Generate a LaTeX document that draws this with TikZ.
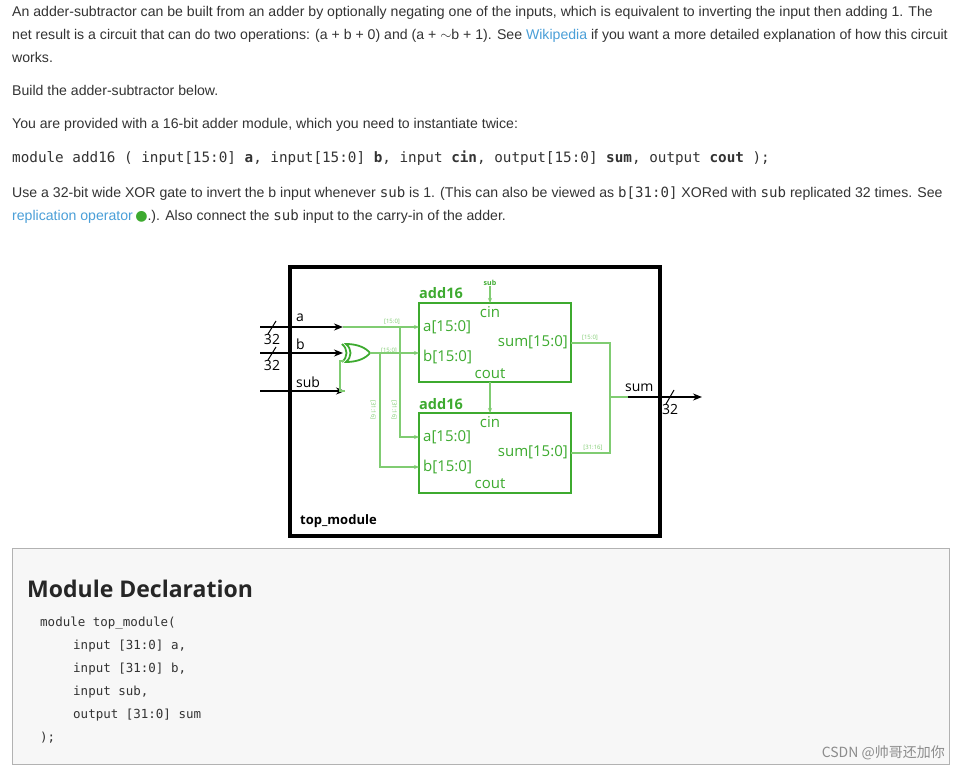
\documentclass[tikz,border=0pt]{standalone}
\usepackage{fontspec}
\setmainfont{Liberation Sans}
\setmonofont{DejaVu Sans Mono}
\newfontfamily\dia{Open Sans}
\newfontfamily\cjk{Noto Sans CJK SC}
\usetikzlibrary{arrows.meta}
\definecolor{txt}{HTML}{333333}
\definecolor{lnk}{HTML}{4A9FD8}
\definecolor{gbox}{HTML}{3DAA2F}
\definecolor{gline}{HTML}{80CC72}
\begin{document}
\begin{tikzpicture}[x=1pt,y=-1pt,
  body/.style={anchor=base west,inner sep=0,text=txt,font=\fontsize{14.1}{16}\selectfont},
  code/.style={anchor=base west,inner sep=0,text=txt,font=\ttfamily\fontsize{12.5}{15}\selectfont},
  dt/.style={inner sep=0,text=gbox,font=\dia\fontsize{15}{17}\selectfont},
  tiny/.style={inner sep=0,text=gline,font=\dia\fontsize{6}{7}\selectfont},
  bk/.style={line width=1.8pt,-{Stealth[length=9pt,width=7pt]}},
  gl/.style={gline,line width=1.3pt},
  ga/.style={gline,line width=1.3pt,-{Stealth[length=5pt,width=4pt]}},
  blk/.style={inner sep=0,font=\dia\fontsize{14}{16}\selectfont}]
\useasboundingbox (0,0) rectangle (959,770);
\fill[white] (0,0) rectangle (959,770);
% text
\node[body] (t1) at (12,17) {An adder-subtractor can be built from an adder by optionally negating one of the inputs, which is equivalent to inverting the input then adding 1. The};
\node[body] (t2) at (12,40) {net result is a circuit that can do two operations: (a + b + 0) and (a + $\sim$b + 1). See \textcolor{lnk}{Wikipedia} if you want a more detailed explanation of how this circuit};
\node[body] (t3) at (12,63) {works.};
\node[body] (t4) at (12,96) {Build the adder-subtractor below.};
\node[body] (t5) at (12,129) {You are provided with a 16-bit adder module, which you need to instantiate twice:};
\node[code,font=\ttfamily\fontsize{14.3}{16}\selectfont] (t6) at (12,163) {module add16 ( input[15:0] \textbf{a}, input[15:0] \textbf{b}, input \textbf{cin}, output[15:0] \textbf{sum}, output \textbf{cout} );};
\node[body] (t7) at (12,198) {Use a 32-bit wide XOR gate to invert the b input whenever {\ttfamily sub} is 1. (This can also be viewed as {\ttfamily b[31:0]} XORed with {\ttfamily sub} replicated 32 times. See};
\node[body] (t8) at (12,221) {\textcolor{lnk}{replication operator}\,{\fontspec{DejaVu Sans}\textcolor{gbox}{●}}.). Also connect the {\ttfamily sub} input to the carry-in of the adder.};
% diagram
\draw[line width=4pt] (290,267) rectangle (660,536);
\node[blk,font=\dia\bfseries\fontsize{13}{15}\selectfont,anchor=west] (top) at (300,521) {top\_module};
\draw[gbox,line width=2pt] (419,303) rectangle (571,382);
\draw[gbox,line width=2pt] (419,413) rectangle (571,493);
\node[dt,font=\dia\bfseries\fontsize{14.5}{16}\selectfont,anchor=west] (h1) at (419,293) {add16};
\node[dt,font=\dia\bfseries\fontsize{14.5}{16}\selectfont,anchor=west] (h2) at (419,404) {add16};
\foreach \o/\n in {0/u,110/l}{
 \node[dt] (cin\n) at (490,312+\o) {cin};
 \node[dt,anchor=west] (a\n) at (423,327+\o) {a[15:0]};
 \node[dt,anchor=east] (s\n) at (568,342+\o) {sum[15:0]};
 \node[dt,anchor=west] (b\n) at (423,357+\o) {b[15:0]};
 \node[dt] (cout\n) at (490,374+\o) {cout};
}
\coordinate (ain) at (260,327); \coordinate (aend) at (343,327);
\coordinate (bin) at (260,353); \coordinate (bend) at (343,353);
\coordinate (sin) at (260,391); \coordinate (send) at (345,391);
\draw[bk] (ain) -- (aend);
\draw[bk] (bin) -- (bend);
\draw[bk] (sin) -- (send);
\draw[line width=1pt] (268,334) -- (276,321) (268,360) -- (276,347);
\node[blk,anchor=west] (la) at (296,318) {a};
\node[blk,anchor=west] (lb) at (296,344) {b};
\node[blk,anchor=west] (ls) at (296,382) {sub};
\node[blk] (n32a) at (272,339) {32};
\node[blk] (n32b) at (272,365) {32};
% xor gate
\draw[gbox,line width=1.8pt] (346,344) .. controls (352,349) and (352,357) .. (346,362)
  .. controls (358,362) and (366,358) .. (370,353) .. controls (366,348) and (358,344) .. (346,344) -- cycle;
\draw[gbox,line width=1.8pt] (342,344) .. controls (348,349) and (348,357) .. (342,362);
\coordinate (xo) at (370,353);
\draw[gl] (send) -- (340,391) -- (340,361) -- (344,361);
\draw[ga] (aend) -- (419,327);
\draw[ga] (xo) -- (419,353);
\draw[ga] (400,327) -- (400,437) -- (419,437);
\draw[ga] (380,353) -- (380,467) -- (419,467);
\node[tiny] (l1) at (392,322) {[15:0]};
\node[tiny] (l2) at (389,351) {[15:0]};
\node[tiny,rotate=-90] (l3) at (373,410) {[31:16]};
\node[tiny,rotate=-90] (l4) at (394,410) {[31:16]};
\node[dt,font=\dia\bfseries\fontsize{7}{8}\selectfont] (subl) at (490,283) {sub};
\draw[ga] (subl.south) -- (490,303);
\draw[ga] (490,382) -- (490,413);
\draw[gl] (571,343) -- (610,343) -- (610,453) -- (571,453);
\node[tiny] (l5) at (590,338) {[15:0]};
\node[tiny] (l6) at (593,448) {[31:16]};
\draw[gl] (610,397) -- (628,397);
\coordinate (sout) at (702,397);
\draw[bk] (628,397) -- (sout);
\draw[line width=1pt] (666,404) -- (674,390);
\node[blk,anchor=west] (lsum) at (625,388) {sum};
\node[blk] (n32c) at (670,409) {32};
% module declaration
\draw[fill=black!3,draw=black!30] (12,548) rectangle (949,764);
\node[anchor=base west,inner sep=0,text=black!85,font=\dia\bfseries\fontsize{23}{26}\selectfont] (md) at (27,597) {Module Declaration};
\node[code] (c1) at (40,626) {module top\_module(};
\node[code] (c2) at (73,649) {input [31:0] a,};
\node[code] (c3) at (73,672) {input [31:0] b,};
\node[code] (c4) at (73,695) {input sub,};
\node[code] (c5) at (73,718) {output [31:0] sum};
\node[code] (c6) at (40,741) {);};
\node[anchor=base east,inner sep=0,text=black!45,font=\cjk\fontsize{14}{16}\selectfont] (wm) at (945,757) {CSDN @帅哥还加你};
\end{tikzpicture}
\end{document}
